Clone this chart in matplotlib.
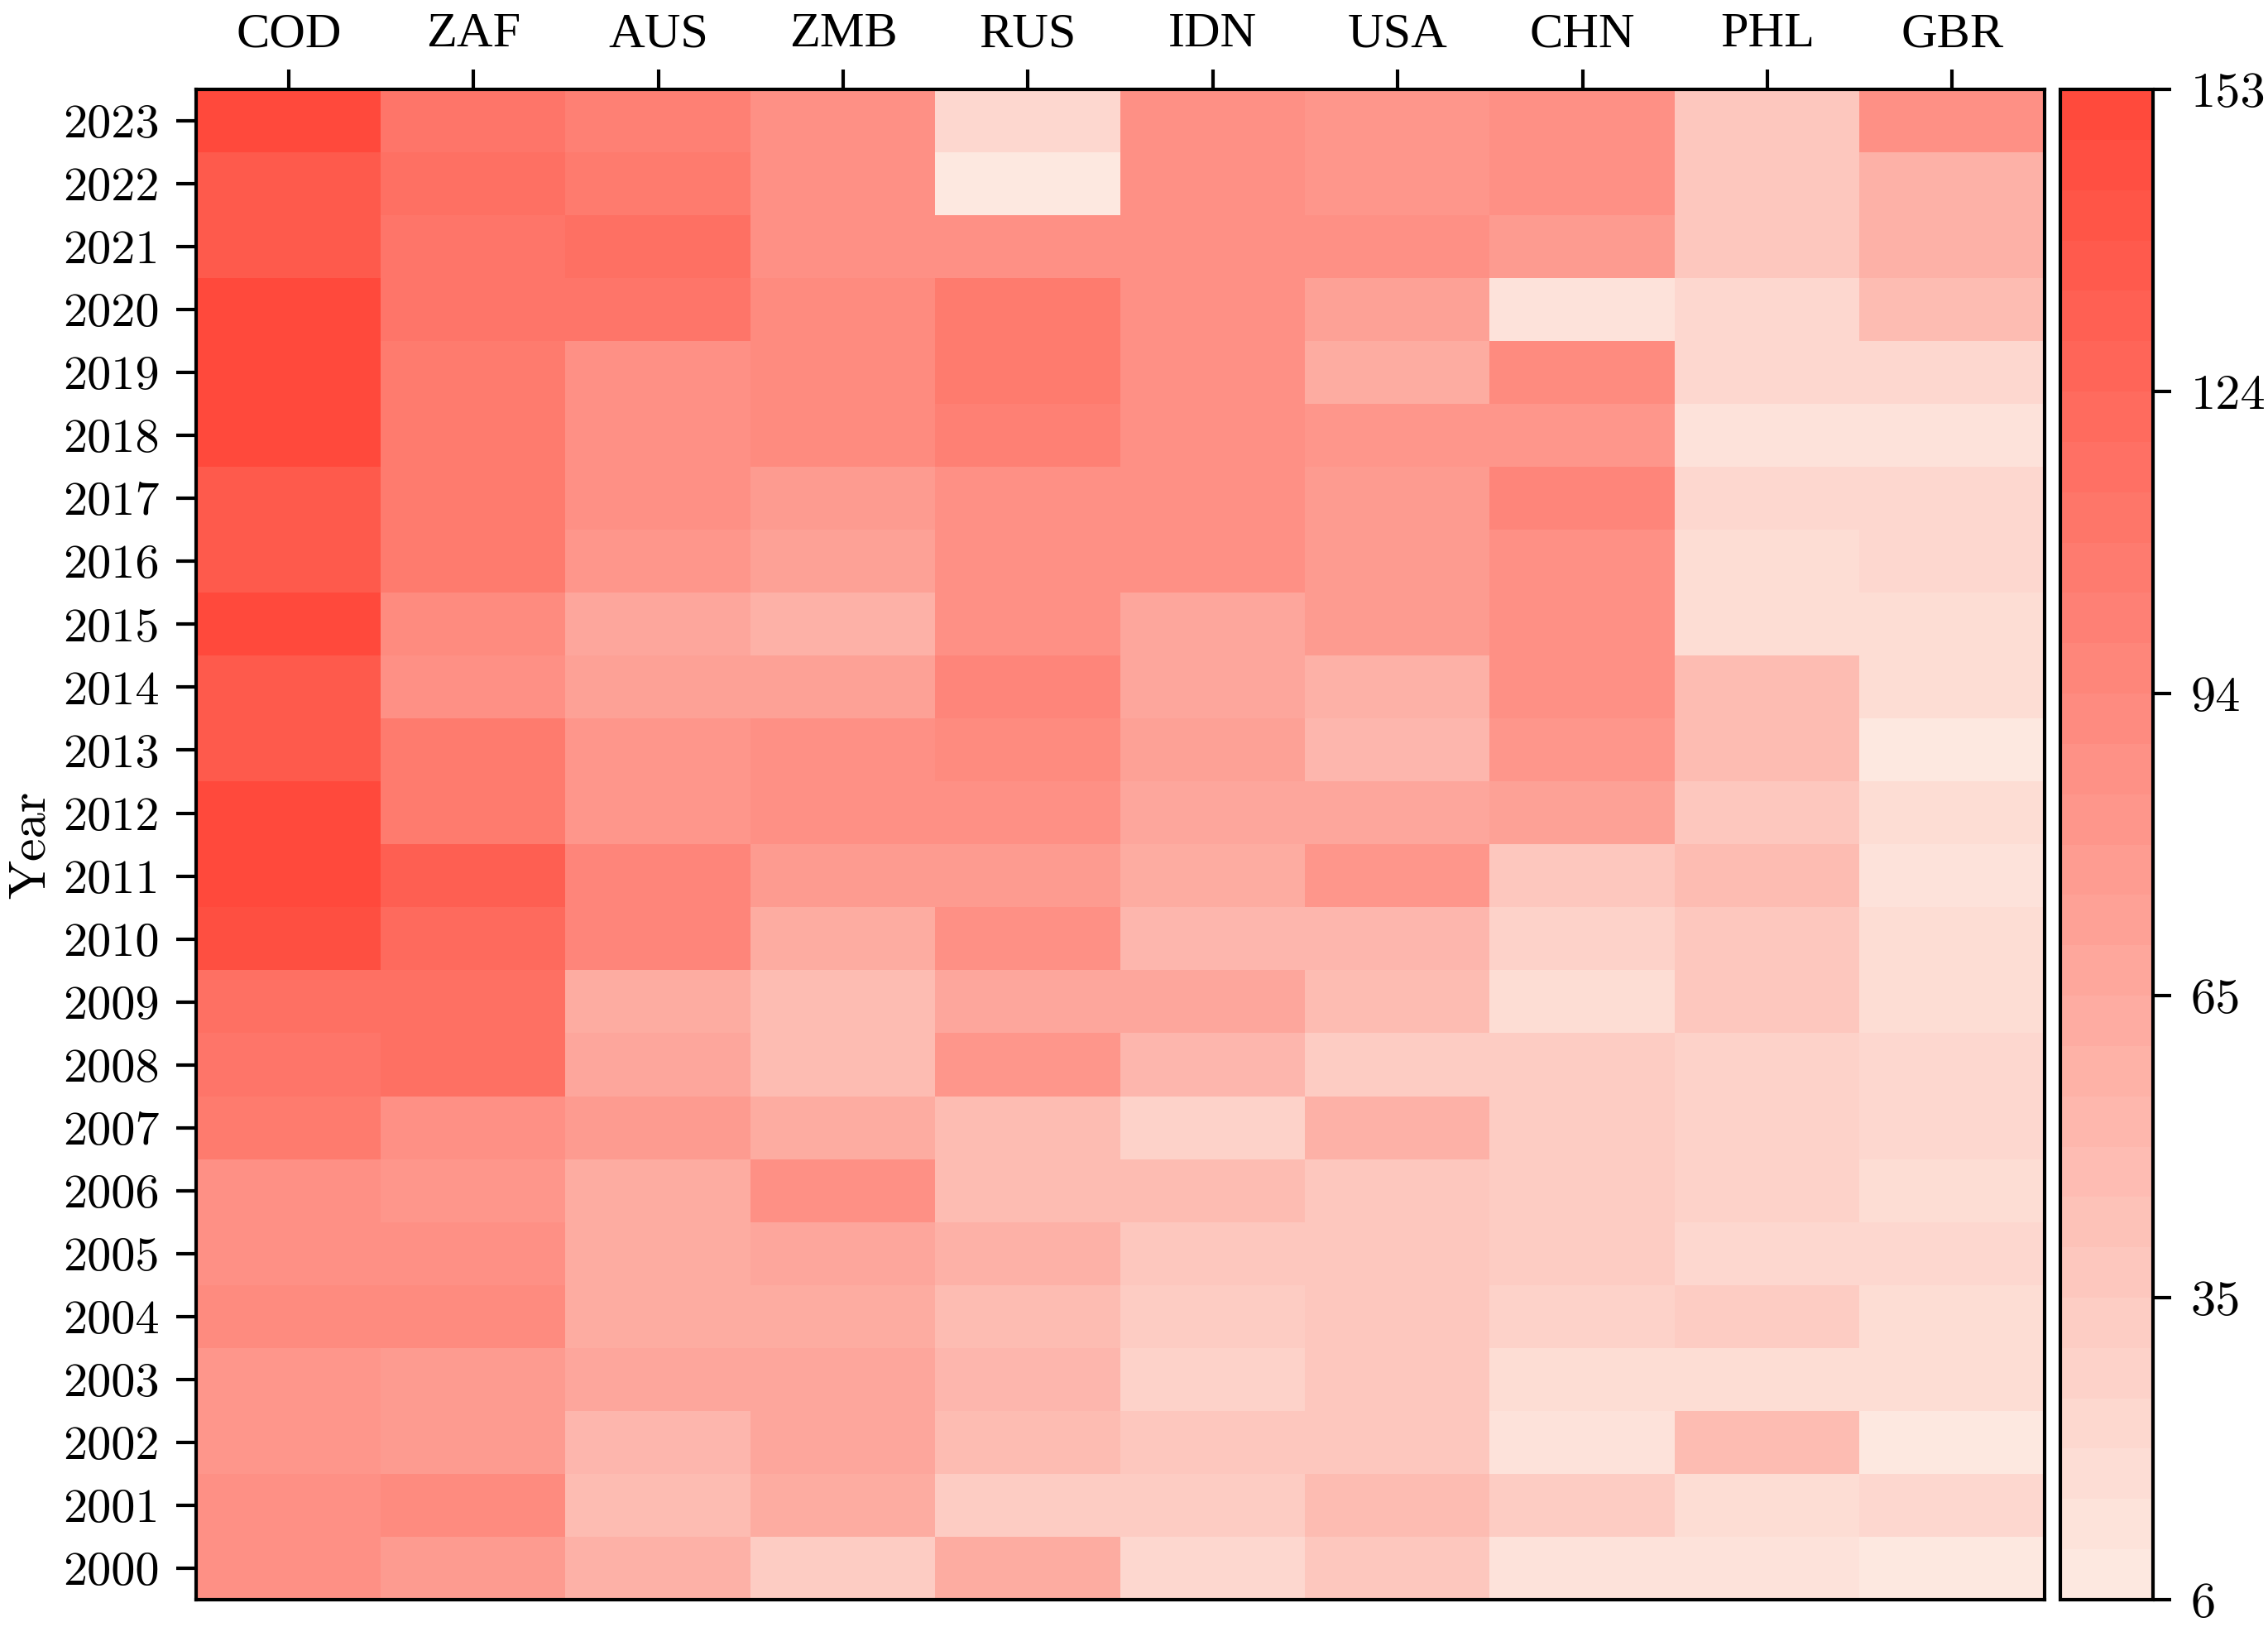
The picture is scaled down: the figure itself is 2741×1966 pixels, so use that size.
import numpy as np
import matplotlib
matplotlib.use('Agg')
import matplotlib.pyplot as plt
from matplotlib.colors import ListedColormap, Normalize

# Data (rows: 2023 -> 2000)
countries = ['COD', 'ZAF', 'AUS', 'ZMB', 'RUS', 'IDN', 'USA', 'CHN', 'PHL', 'GBR']
years = [2023, 2022, 2021, 2020, 2019, 2018, 2017, 2016, 2015, 2014, 2013, 2012,
         2011, 2010, 2009, 2008, 2007, 2006, 2005, 2004, 2003, 2002, 2001, 2000]

cod = [150, 138, 138, 153, 150, 150, 138, 136, 150, 134, 134, 150,
       150, 146, 118, 110, 106, 87, 87, 91, 80, 80, 88, 86]
zaf = [112, 118, 110, 112, 106, 106, 106, 105, 94, 87, 106, 106,
       132, 119, 114, 114, 87, 82, 87, 91, 77, 79, 91, 77]
aus = [102, 108, 118, 110, 85, 87, 87, 80, 68, 74, 80, 80,
       98, 98, 64, 69, 76, 60, 64, 60, 65, 54, 48, 55]
zmb = [88, 87, 88, 94, 90, 90, 79, 74, 59, 74, 85, 86,
       79, 64, 47, 47, 64, 88, 68, 64, 68, 65, 60, 35]
rus = [24, 6, 89, 105, 105, 102, 86, 86, 85, 95, 90, 86,
       79, 88, 65, 80, 48, 48, 58, 46, 54, 48, 35, 61]
idn = [85, 85, 86, 85, 85, 86, 85, 88, 69, 65, 74, 65,
       61, 51, 68, 52, 28, 46, 38, 32, 26, 38, 32, 25]
usa = [80, 80, 87, 74, 64, 80, 76, 76, 76, 55, 51, 65,
       82, 51, 46, 35, 55, 38, 38, 38, 38, 38, 46, 38]
chn = [87, 86, 75, 14, 94, 80, 95, 86, 85, 85, 80, 70,
       36, 30, 16, 35, 35, 33, 33, 30, 16, 15, 35, 15]
phl = [36, 38, 36, 24, 23, 15, 23, 19, 20, 46, 46, 36,
       46, 37, 37, 28, 28, 28, 22, 35, 16, 46, 16, 15]
gbr = [88, 56, 56, 46, 23, 15, 23, 23, 20, 20, 8, 20,
       15, 20, 20, 23, 23, 17, 23, 17, 18, 8, 23, 8]

cbar_ticks = [6, 35.4, 64.8, 94.2, 123.6, 153]
cbar_labels = ['6', '35', '65', '94', '124', '153']

Z = np.column_stack([cod, zaf, aus, zmb, rus, idn, usa, chn, phl, gbr])

# 30-step white -> red map
lo = np.array([253, 232, 224]) / 255
hi = np.array([255, 74, 60]) / 255
t = np.linspace(0, 1, 30)[:, None]
cmap = ListedColormap(lo + (hi - lo) * t)

plt.rcParams['font.family'] = 'cmr10'
plt.rcParams['axes.unicode_minus'] = False
plt.rcParams['axes.linewidth'] = 1.0

fig = plt.figure(figsize=(2741 / 300, 1966 / 300), dpi=300)
ax = fig.add_axes([0.0865, 0.0168, 0.8150, 0.9282])
cax = fig.add_axes([0.9084, 0.0168, 0.0409, 0.9282])

im = ax.imshow(Z, cmap=cmap, norm=Normalize(vmin=6, vmax=153),
               aspect='auto', interpolation='nearest')

ax.set_xticks(range(len(countries)))
ax.set_xticklabels(countries, fontfamily='Liberation Serif', fontsize=14.5)
ax.set_yticks(range(len(years)))
ax.set_yticklabels([str(y) for y in years], fontsize=14)
ax.tick_params(axis='x', top=True, bottom=False, labeltop=True, labelbottom=False,
               length=5.8, width=1.0, pad=3.5)
ax.tick_params(axis='y', length=5.8, width=1.0, pad=4.8)
ax.set_ylabel('Year', fontsize=15, labelpad=2.5)

cb = fig.colorbar(im, cax=cax, ticks=cbar_ticks)
cb.ax.set_yticklabels(cbar_labels, fontsize=14.5)
cb.ax.tick_params(length=5.2, width=1.0, pad=5.8)
cb.outline.set_linewidth(1.0)

fig.savefig('out.png', dpi=300)
